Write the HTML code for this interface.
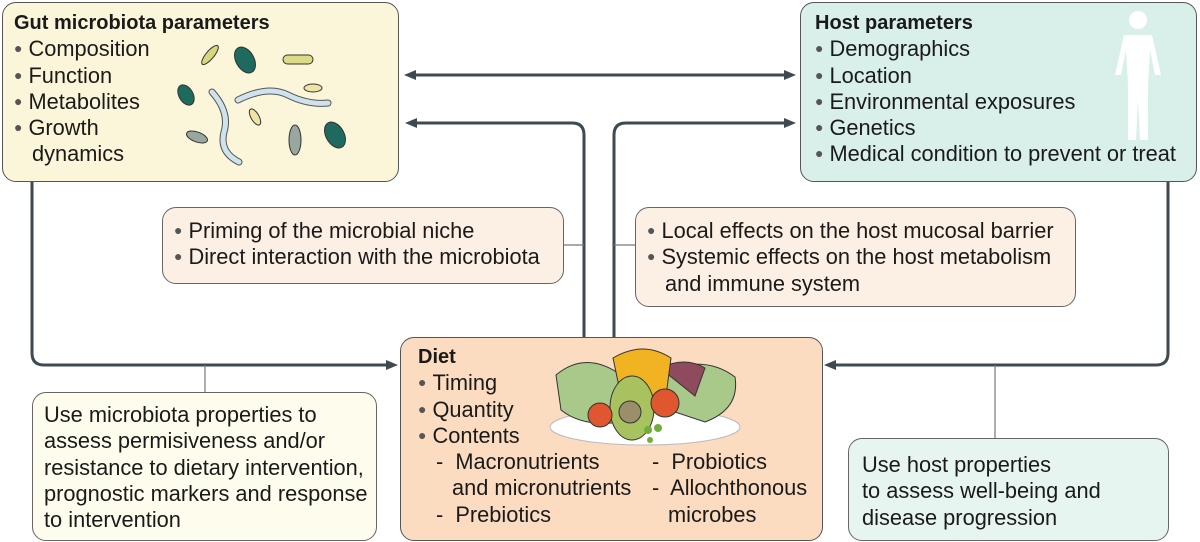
<!DOCTYPE html>
<html><head><meta charset="utf-8"><style>
body{margin:0;width:1200px;height:542px;background:#fff;position:relative;overflow:hidden;font-family:"Liberation Sans",sans-serif;color:#1a1a1a}
.b{position:absolute;box-sizing:border-box;border:1.5px solid #555;border-radius:14px}
.t{position:absolute;font-size:21.8px;white-space:nowrap}
.t div{height:26.3px;line-height:26.3px;overflow:visible}
.h{font-weight:bold;font-size:20px}
.d{color:#555;font-size:14px;position:relative;top:-3px;margin-right:6px}
svg{position:absolute;left:0;top:0}
</style></head><body>
<svg width="1200" height="542">
<g fill="none" stroke="#3e4a52" stroke-width="3">
<path d="M412 75H788"/>
<path d="M584 337V135q0-12-12-12H414"/>
<path d="M614 337V135q0-12 12-12H788"/>
<path d="M32 181V353q0 12 12 12H390"/>
<path d="M1168 181V353q0 12-12 12H832"/>
</g>
<g fill="#3e4a52">
<path d="M404 75l12-5v10z"/><path d="M796 75l-12-5v10z"/>
<path d="M405 123l12-5v10z"/><path d="M796 123l-12-5v10z"/>
<path d="M398 365l-12-5v10z"/><path d="M824 365l12-5v10z"/>
</g>
<g stroke="#777" stroke-width="1.2">
<path d="M563 245H584M614 245H636M205 365V392M995 365V438"/>
</g>
</svg>
<div class="b" style="left:2px;top:2px;width:397px;height:180px;background:#fbf6d9"></div>
<div class="b" style="left:800px;top:2px;width:397px;height:180px;background:#d9efea"></div>
<div class="b" style="left:162px;top:207px;width:402px;height:77px;background:#fcefe3;border-color:#666"></div>
<div class="b" style="left:635px;top:207px;width:441px;height:100px;background:#fcefe3;border-color:#666"></div>
<div class="b" style="left:400px;top:337px;width:423px;height:204px;background:#fbdcc1"></div>
<div class="b" style="left:32px;top:392px;width:345px;height:149px;background:#fefced;border-color:#666"></div>
<div class="b" style="left:848px;top:438px;width:321px;height:103px;background:#e7f5f1;border-color:#666"></div>

<svg width="1200" height="542">
<g stroke="#333" stroke-width="1">
<ellipse cx="210" cy="55" rx="4" ry="12" transform="rotate(40 210 55)" fill="#d8d680"/>
<ellipse cx="245" cy="60" rx="9" ry="14" transform="rotate(-30 245 60)" fill="#1e6a5e"/>
<rect x="283" y="55" width="30" height="9" rx="4.5" fill="#dcdc88"/>
<ellipse cx="186" cy="95" rx="7" ry="11" transform="rotate(-30 186 95)" fill="#1e6a5e"/>
<ellipse cx="335" cy="135" rx="9" ry="14" transform="rotate(-30 335 135)" fill="#1e6a5e"/>
<ellipse cx="313" cy="88" rx="9" ry="4" fill="#eee5a4"/>
<ellipse cx="255" cy="117" rx="4" ry="9" transform="rotate(-30 255 117)" fill="#eee5a4"/>
<ellipse cx="197" cy="137" rx="11" ry="5" transform="rotate(20 197 137)" fill="#9aa7a0"/>
<ellipse cx="295" cy="140" rx="6" ry="15" fill="#9aa7a0"/>
</g>
<g fill="none" stroke="#555" stroke-width="7" stroke-linecap="round"><path d="M212 92q18 20 12 40q-5 20 15 30M238 100q30-15 50-5q20 10 40 8"/></g>
<g fill="none" stroke="#cfe3ee" stroke-width="5" stroke-linecap="round"><path d="M212 92q18 20 12 40q-5 20 15 30M238 100q30-15 50-5q20 10 40 8"/></g>
<g fill="#fff"><circle cx="1138" cy="20" r="9"/><path d="M1124 35h28l9 40h-6l-5-25-2 35v55h-8l-2-40-2 40h-8v-55l-2-35-5 25h-6z"/></g>
<ellipse cx="645" cy="427" rx="95" ry="18" fill="#fff" stroke="#bbb"/>
<g stroke="#333" stroke-width="1">
<path d="M556 375q30-25 65 0l10 45q-45 10-70-10z" fill="#a9c98a"/>
<path d="M660 372q45-18 75 5q5 32-30 45l-45-15z" fill="#a9c98a"/>
<path d="M660 368q25-12 45 0l-10 28z" fill="#8e4b5e"/>
<path d="M613 358q30-18 58 0l-5 38h-45z" fill="#f2b323"/>
<ellipse cx="632" cy="408" rx="22" ry="32" fill="#a8c25f"/>
<circle cx="630" cy="412" r="11" fill="#9a8f6a"/>
<circle cx="600" cy="415" r="12" fill="#e0562e"/>
<circle cx="665" cy="403" r="14" fill="#e0562e"/>
</g>
<g fill="#6fae3b"><circle cx="648" cy="430" r="4"/><circle cx="658" cy="428" r="4"/><circle cx="650" cy="440" r="3"/></g>
</svg>

<div class="t" style="left:14px;top:10px"><div class="h">Gut microbiota parameters</div><div><span class="d">●</span>Composition</div><div><span class="d">●</span>Function</div><div><span class="d">●</span>Metabolites</div><div><span class="d">●</span>Growth</div><div style="padding-left:18px">dynamics</div></div>
<div class="t" style="left:815px;top:10px"><div class="h">Host parameters</div><div><span class="d">●</span>Demographics</div><div><span class="d">●</span>Location</div><div><span class="d">●</span>Environmental exposures</div><div><span class="d">●</span>Genetics</div><div><span class="d">●</span>Medical condition to prevent or treat</div></div>
<div class="t" style="left:174px;top:218px"><div><span class="d">●</span>Priming of the microbial niche</div><div><span class="d">●</span>Direct interaction with the microbiota</div></div>
<div class="t" style="left:647px;top:218px"><div><span class="d">●</span>Local effects on the host mucosal barrier</div><div><span class="d">●</span>Systemic effects on the host metabolism</div><div style="padding-left:18px">and immune system</div></div>
<div class="t" style="left:418px;top:344px"><div class="h">Diet</div><div><span class="d">●</span>Timing</div><div><span class="d">●</span>Quantity</div><div><span class="d">●</span>Contents</div><div style="padding-left:18px">-&nbsp; Macronutrients</div><div style="padding-left:34px">and micronutrients</div><div style="padding-left:18px">-&nbsp; Prebiotics</div></div>
<div class="t" style="left:652px;top:449px"><div>-&nbsp; Probiotics</div><div>-&nbsp; Allochthonous</div><div style="padding-left:16px">microbes</div></div>
<div class="t" style="left:44px;top:402px"><div>Use microbiota properties to</div><div>assess permisiveness and/or</div><div>resistance to dietary intervention,</div><div>prognostic markers and response</div><div>to intervention</div></div>
<div class="t" style="left:862px;top:452px"><div>Use host properties</div><div>to assess well-being and</div><div>disease progression</div></div>
</body></html>
